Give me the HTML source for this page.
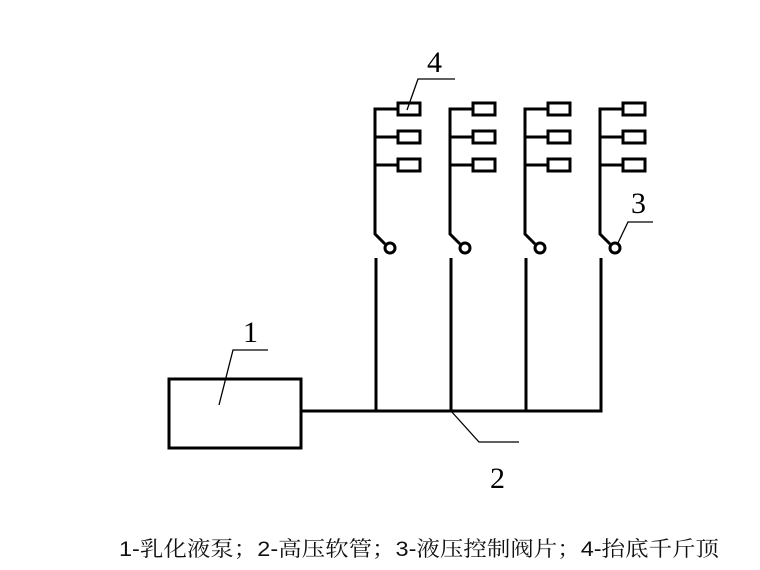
<!DOCTYPE html>
<html><head><meta charset="utf-8"><style>
html,body{margin:0;padding:0;background:#fff;}
svg{display:block;}
</style></head><body>
<svg width="760" height="570" viewBox="0 0 760 570" xmlns="http://www.w3.org/2000/svg">
<g fill="none" stroke="#000" stroke-width="3">
<rect x="169" y="379" width="132" height="69"/>
<polyline points="301,411 601,411 601,258"/>
<line x1="376" y1="258" x2="376" y2="411"/>
<line x1="451" y1="258" x2="451" y2="411"/>
<line x1="526" y1="258" x2="526" y2="411"/>
</g>
<g id="c" fill="none" stroke="#000" stroke-width="3">
<polyline points="398,109 375,109 375,234 385,244"/>
<line x1="375" y1="137" x2="398" y2="137"/>
<line x1="375" y1="165" x2="398" y2="165"/>
<rect x="398" y="103" width="22" height="12"/>
<rect x="398" y="131" width="22" height="12"/>
<rect x="398" y="159" width="22" height="12"/>
<circle cx="390" cy="248" r="5"/>
</g>
<use href="#c" x="75"/>
<use href="#c" x="150"/>
<use href="#c" x="225"/>
<g fill="none" stroke="#000" stroke-width="1.3">
<polyline points="407,110 418,79 455,79"/>
<polyline points="617,245 628,222 653,222"/>
<polyline points="219,405 233,350 268,350"/>
<polyline points="451,411 479,442 519,442"/>
</g>
<g font-family="Liberation Serif, serif" font-size="30" fill="#000">
<text x="427" y="72">4</text>
<text x="631" y="213">3</text>
<text x="243" y="342">1</text>
<text x="490" y="488">2</text>
</g>
<text x="119" y="556" font-family="Liberation Sans, 'Noto Serif CJK SC', 'Noto Sans CJK SC', serif" font-size="21" fill="#111" textLength="600" lengthAdjust="spacingAndGlyphs">1-乳化液泵；2-高压软管；3-液压控制阀片；4-抬底千斤顶</text>
</svg>
</body></html>
